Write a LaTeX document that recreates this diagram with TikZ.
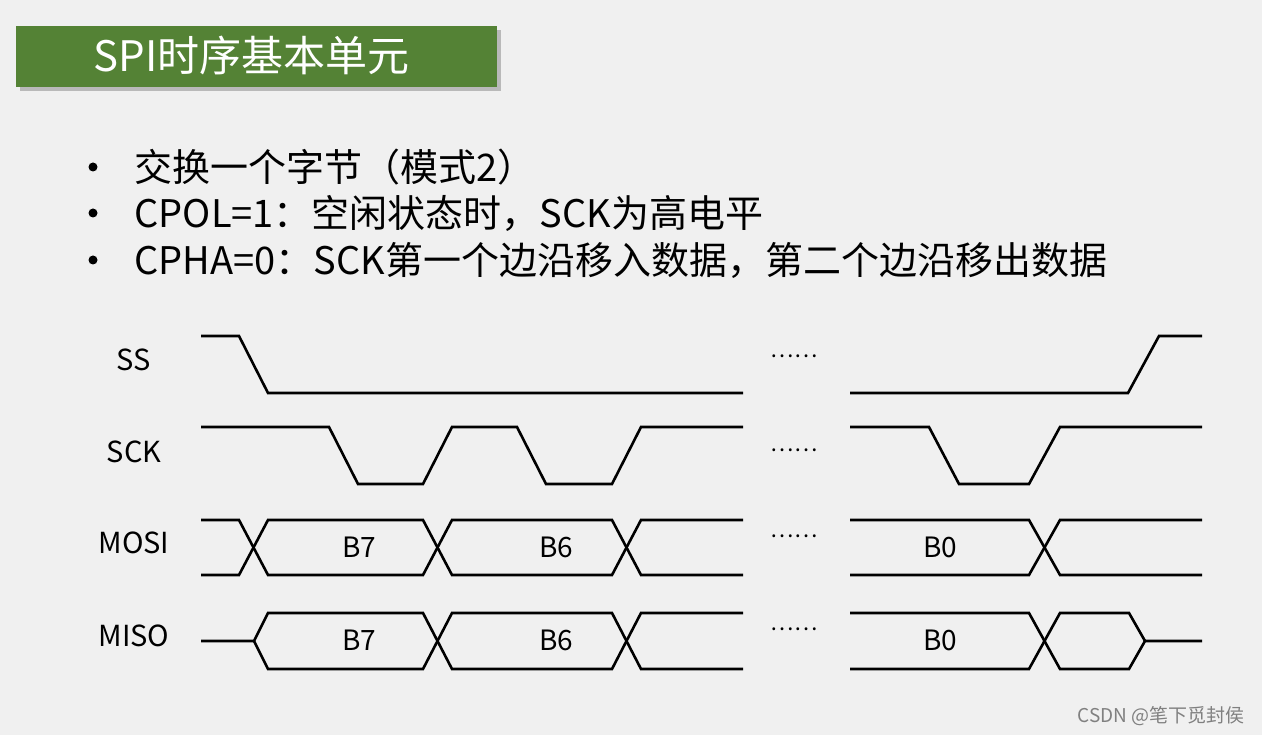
\documentclass[tikz,border=0pt]{standalone}
\usepackage{fontspec}
\setmainfont{Noto Sans CJK SC}
\definecolor{bg}{HTML}{F0F0F0}
\definecolor{tgreen}{HTML}{548235}
\begin{document}
\begin{tikzpicture}[x=1pt,y=-1pt,
  wave/.style={line width=2.6pt,line join=miter},
  sig/.style={font=\fontsize{29}{29}\selectfont,anchor=center},
  dat/.style={font=\fontsize{28}{28}\selectfont,anchor=center},
  bul/.style={font=\fontsize{38}{42}\selectfont,anchor=west},
  dots/.style={font=\fontsize{22}{22}\selectfont,anchor=center}]
\fill[bg] (0,0) rectangle (1262,735);
\useasboundingbox (0,0) rectangle (1262,735);
\fill[gray!55] (20,30) rectangle (501,91);
\fill[tgreen] (16,26) rectangle (497,87);
\node[anchor=west,text=white,font=\fontsize{42}{44}\selectfont] (title) at (90,56) {SPI时序基本单元};
\foreach \y/\t [count=\i] in {167/交换一个字节（模式2）,213/{CPOL=1：空闲状态时，SCK为高电平},260/{CPHA=0：SCK第一个边沿移入数据，第二个边沿移出数据}}{
  \fill (93,\y) circle (4.5) coordinate (b\i);
  \node[bul] (t\i) at (131,\y) {\t};
}
\node[sig] (lss) at (134,360) {SS};
\node[sig] (lsck) at (134,452) {SCK};
\node[sig] (lmosi) at (134,543) {MOSI};
\node[sig] (lmiso) at (134,636) {MISO};
% SS
\draw[wave] (201,336) -- (239,336) -- (268,393) -- (743,393);
\draw[wave] (850,393) -- (1128,393) -- (1159,336) -- (1202,336);
% SCK
\draw[wave] (201,427) -- (329,427) -- (358,484) -- (423,484) -- (452,427) -- (517,427) -- (546,484) -- (612,484) -- (641,427) -- (743,427);
\draw[wave] (850,427) -- (929,427) -- (959,484) -- (1029,484) -- (1060,427) -- (1202,427);
% MOSI
\draw[wave] (201,520) -- (239,520) -- (268,575) -- (423,575) -- (452,520) -- (612,520) -- (641,575) -- (743,575);
\draw[wave] (201,575) -- (239,575) -- (268,520) -- (423,520) -- (452,575) -- (612,575) -- (641,520) -- (743,520);
\draw[wave] (850,520) -- (1029,520) -- (1060,575) -- (1202,575);
\draw[wave] (850,575) -- (1029,575) -- (1060,520) -- (1202,520);
% MISO
\draw[wave] (201,641) -- (254,641) -- (268,613) -- (423,613) -- (452,669) -- (612,669) -- (641,613) -- (743,613);
\draw[wave] (254,641) -- (268,669) -- (423,669) -- (452,613) -- (612,613) -- (641,669) -- (743,669);
\draw[wave] (850,613) -- (1029,613) -- (1060,669) -- (1129,669) -- (1145,641) -- (1202,641);
\draw[wave] (850,669) -- (1029,669) -- (1060,613) -- (1129,613) -- (1145,641);
\foreach \x/\y/\t/\n in {359/547/B7/a,556/547/B6/b,940/547/B0/c,359/640/B7/d,556/640/B6/e,940/640/B0/f}
  \node[dat] (d\n) at (\x,\y) {\t};
\foreach \y/\n in {356/1,450/2,536/3,629/4}
  \node[dots] (dt\n) at (794,\y) {……};
\node[anchor=east,text=gray,font=\fontsize{19}{19}\selectfont] (wm) at (1248,716) {CSDN @笔下觅封侯};
\end{tikzpicture}
\end{document}
